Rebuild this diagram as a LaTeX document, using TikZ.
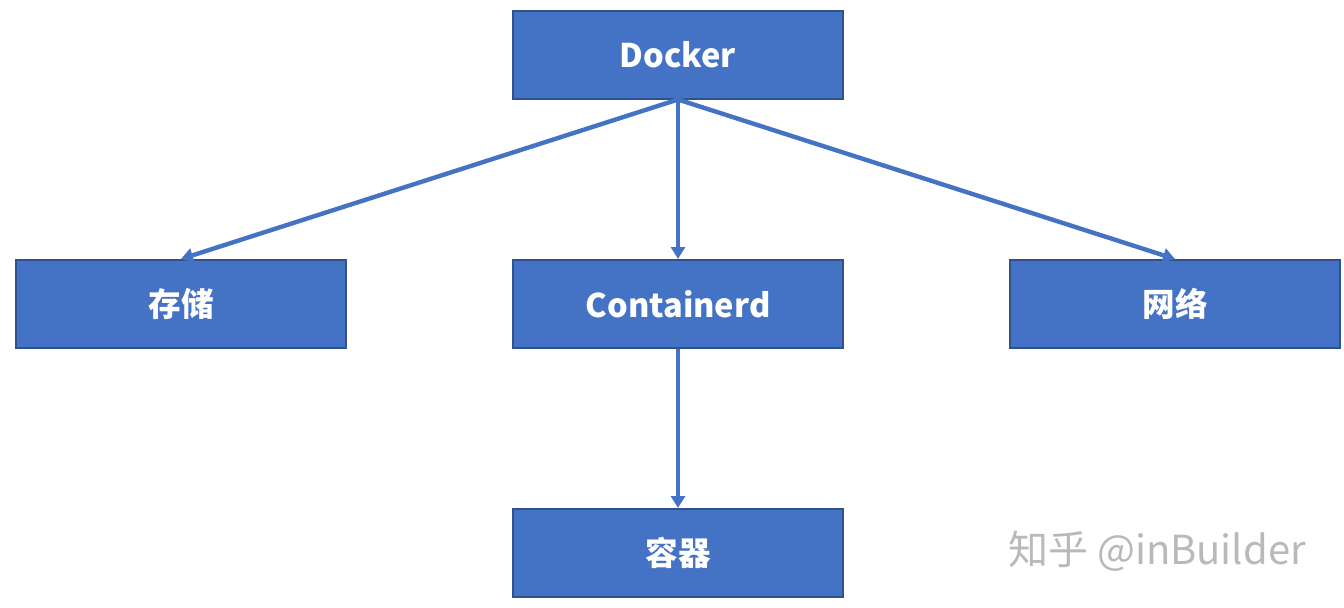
\documentclass[tikz,border=0pt]{standalone}
\usepackage{fontspec}
\setmainfont{Noto Sans CJK SC}
\usetikzlibrary{arrows.meta}
\definecolor{bfill}{HTML}{4472C4}
\definecolor{bdraw}{HTML}{2F528F}
\begin{document}
\begin{tikzpicture}[x=0.5pt,y=-0.5pt,
  box/.style={draw=bdraw,line width=1pt,fill=bfill,minimum width=165pt,minimum height=44pt,inner sep=0pt,text=white,font=\fontsize{16.3}{18}\selectfont\bfseries},
  arr/.style={draw=bfill,line width=2.2pt,-{Triangle[length=6pt,width=7pt]}}]
\useasboundingbox (0,0) rectangle (1344,607);
\node[box] (docker) at (678,54.5) {Docker};
\node[box] (store) at (181,304) {存储};
\node[box] (ctd) at (678,304) {Containerd};
\node[box] (net) at (1175,304) {网络};
\node[box] (cont) at (678,553) {容器};
\draw[arr] (docker.south) -- (store.north);
\draw[arr] (docker.south) -- (ctd.north);
\draw[arr] (docker.south) -- (net.north);
\draw[arr] (ctd.south) -- (cont.north);
\node[text=gray!55,font=\fontsize{20}{22}\selectfont] (wm) at (1157,551) {知乎 @inBuilder};
\end{tikzpicture}
\end{document}
